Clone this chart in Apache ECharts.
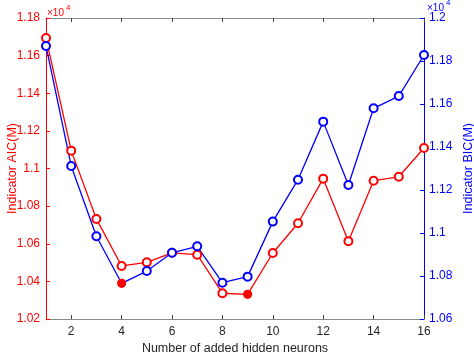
<!DOCTYPE html>
<html>
<head>
<meta charset="utf-8">
<script src="https://cdn.jsdelivr.net/npm/echarts@6/dist/echarts.min.js"></script>
<style>
  html, body { margin: 0; padding: 0; background: #fff; }
  #main { width: 474px; height: 354px; }
</style>
</head>
<body>
<div id="main"></div>
<script>
// number of added hidden neurons
var neurons = [1, 2, 3, 4, 5, 6, 7, 8, 9, 10, 11, 12, 13, 14, 15, 16]
// AIC(M), left axis (x10^4 shown on axis)
var aic = [11694, 11095, 10732, 10482, 10501, 10552, 10542, 10337, 10331, 10551, 10709, 10946, 10613, 10935, 10956, 11109]
// BIC(M), right axis
var bic = [11870, 11312, 10985, 10766, 10823, 10908, 10938, 10769, 10797, 11053, 11248, 11518, 11223, 11580, 11637, 11828]
// x tick positions
var xTicks = [2, 4, 6, 8, 10, 12, 14, 16]

var RED = '#ff0000'
var BLUE = '#0000ff'
var FONT = 'Liberation Sans, Arial, Helvetica, sans-serif'

function argmin(arr) {
  var k = 0
  for (var i = 1; i < arr.length; i++) if (arr[i] < arr[k]) k = i
  return k
}

// minimum of each series gets a filled red marker
function buildData(vals) {
  var m = argmin(vals)
  return vals.map(function (v, i) {
    if (i === m) {
      return { value: [neurons[i], v], symbol: 'circle', itemStyle: { color: RED, borderColor: RED } }
    }
    return [neurons[i], v]
  })
}

function fmt(v) {
  return String(+(v / 10000).toFixed(2))
}

var myChart = echarts.init(document.getElementById('main'))

var option = {
  animation: false,
  textStyle: { fontFamily: FONT },
  grid: { left: 46, right: 50, top: 18, bottom: 35, containLabel: false, outerBoundsMode: 'none' },
  xAxis: [
    {
      type: 'value', min: 1, max: 16,
      name: 'Number of added hidden neurons',
      nameLocation: 'middle', nameGap: 23, nameMoveOverlap: false,
      nameTextStyle: { color: '#262626', fontSize: 12.5, fontFamily: FONT },
      axisLine: { lineStyle: { color: '#8a8a8a', width: 1 } },
      axisTick: { inside: true, length: 4, customValues: xTicks, lineStyle: { color: '#444' } },
      axisLabel: { color: '#262626', fontSize: 12, margin: 7, fontFamily: FONT, customValues: xTicks },
      splitLine: { show: false }
    },
    {
      type: 'value', min: 1, max: 16, position: 'top',
      axisLine: { lineStyle: { color: '#8a8a8a', width: 1 } },
      axisTick: { inside: true, length: 4, customValues: xTicks, lineStyle: { color: '#444' } },
      axisLabel: { show: false },
      splitLine: { show: false }
    }
  ],
  yAxis: [
    {
      type: 'value', min: 10200, max: 11800, interval: 200, position: 'left',
      name: 'Indicator AIC(M)', nameLocation: 'middle', nameGap: 27, nameRotate: 90,
      nameMoveOverlap: false,
      nameTextStyle: { color: RED, fontSize: 12.5, fontFamily: FONT },
      axisLine: { show: true, lineStyle: { color: RED, width: 1 } },
      axisTick: { show: true, inside: true, length: 4, lineStyle: { color: RED } },
      axisLabel: { color: RED, fontSize: 12, margin: 6, formatter: fmt, fontFamily: FONT },
      splitLine: { show: false }
    },
    {
      type: 'value', min: 10600, max: 12000, interval: 200, position: 'right',
      name: 'Indicator BIC(M)', nameLocation: 'middle', nameGap: 38, nameRotate: 90,
      nameMoveOverlap: false,
      nameTextStyle: { color: BLUE, fontSize: 12.5, fontFamily: FONT },
      axisLine: { show: true, lineStyle: { color: BLUE, width: 1 } },
      axisTick: { show: true, inside: true, length: 4, lineStyle: { color: BLUE } },
      axisLabel: { color: BLUE, fontSize: 12, margin: 5, formatter: fmt, fontFamily: FONT },
      splitLine: { show: false }
    }
  ],
  graphic: [
    { type: 'text', left: 47, top: 8, style: { text: '×10', fill: RED, font: '10px ' + FONT } },
    { type: 'text', left: 66, top: 4, style: { text: '4', fill: RED, font: '8px ' + FONT } },
    { type: 'text', left: 427, top: 3, style: { text: '×10', fill: BLUE, font: '10px ' + FONT } },
    { type: 'text', left: 446, top: -1, style: { text: '4', fill: BLUE, font: '8px ' + FONT } }
  ],
  series: [
    {
      name: 'AIC', type: 'line', xAxisIndex: 0, yAxisIndex: 0,
      data: buildData(aic),
      symbol: 'emptyCircle', symbolSize: 8,
      lineStyle: { color: RED, width: 1.3 },
      itemStyle: { color: RED, borderWidth: 1.2 }
    },
    {
      name: 'BIC', type: 'line', xAxisIndex: 0, yAxisIndex: 1,
      data: buildData(bic),
      symbol: 'emptyCircle', symbolSize: 8,
      lineStyle: { color: BLUE, width: 1.3 },
      itemStyle: { color: BLUE, borderWidth: 1.2 }
    }
  ]
}

myChart.setOption(option)
</script>
</body>
</html>
